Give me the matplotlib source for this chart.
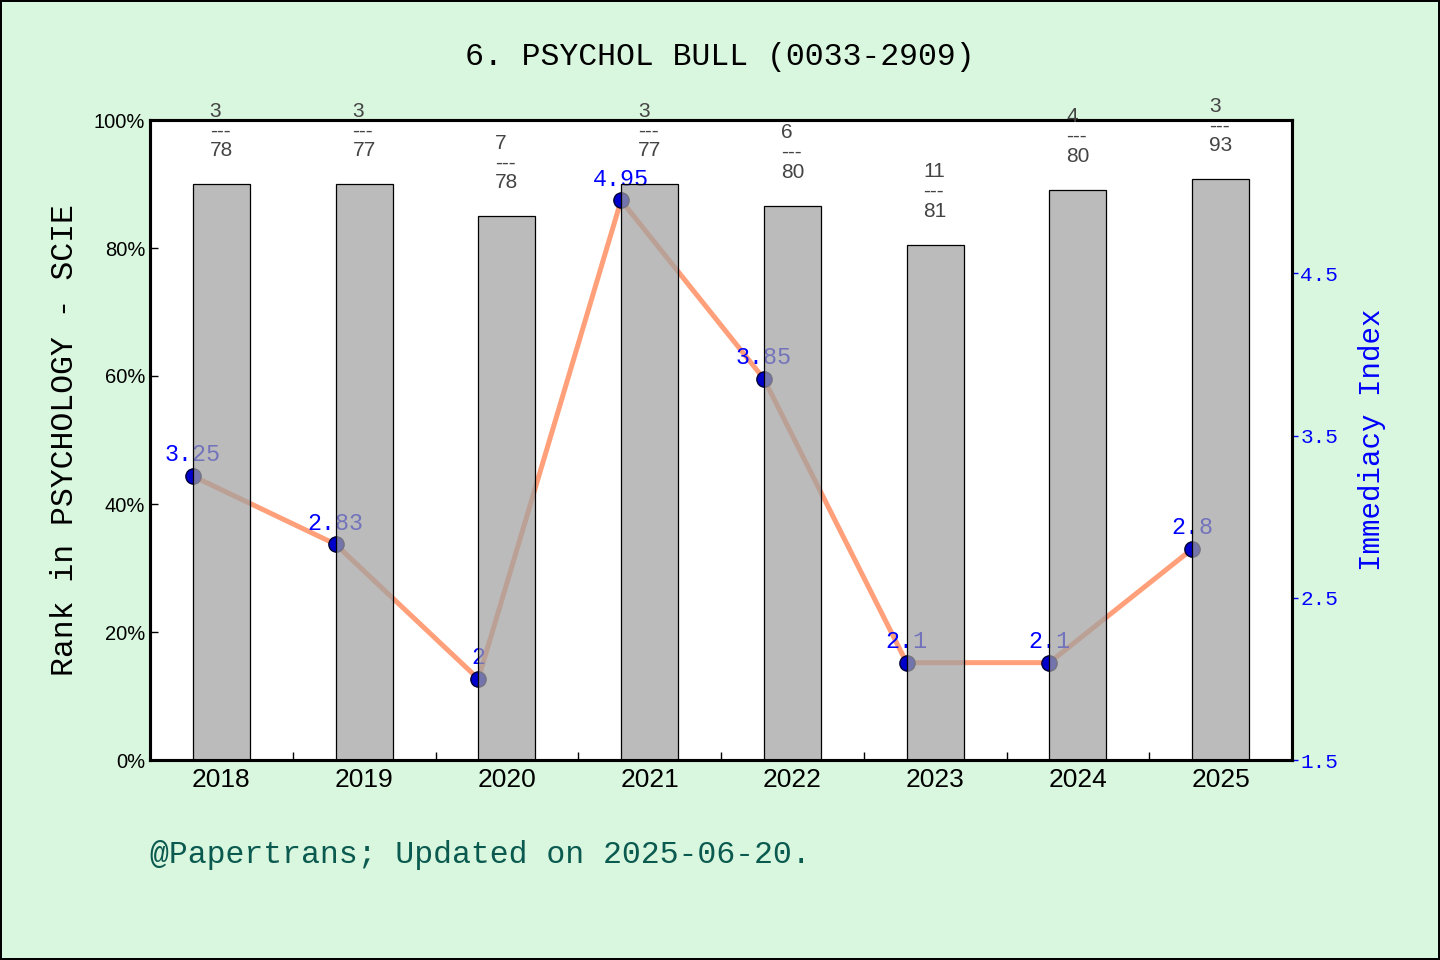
"""Rank percentile bars + immediacy index line for PSYCHOL BULL."""

import matplotlib
matplotlib.use("Agg")
import matplotlib.pyplot as plt
import matplotlib.ticker as mticker
from matplotlib import font_manager
import numpy as np

years = ["2018", "2019", "2020", "2021", "2022", "2023", "2024", "2025"]
rank_pct = [0.90, 0.90, 0.85, 0.90, 0.866, 0.805, 0.891, 0.908]
ranks = [3, 3, 7, 3, 6, 11, 4, 3]
totals = [78, 77, 78, 77, 80, 81, 80, 93]
immediacy = [3.25, 2.83, 2, 4.95, 3.85, 2.1, 2.1, 2.8]

title = "6. PSYCHOL BULL (0033-2909)"
footer = "@Papertrans; Updated on 2025-06-20."

_BG = "#d9f7de"
_FOOT = "#0a5a50"
_SALMON = "#ffa07a"

# pick a monospaced CJK-ish font if it is there
_names = {f.name for f in font_manager.fontManager.ttflist}
if "Noto Sans Mono CJK SC" in _names:
    MONO = ["Noto Sans Mono CJK SC", "DejaVu Sans Mono"]
    mono_scale = 1.0
else:
    MONO = ["Liberation Mono", "DejaVu Sans Mono"]
    mono_scale = 0.84
SANS = ["Liberation Sans", "DejaVu Sans"]

fig = plt.figure(figsize=(14.4, 9.6), dpi=100)
fig.patch.set_facecolor(_BG)
fig.patch.set_edgecolor("black")
fig.patch.set_linewidth(1.5)

ax = fig.add_axes([150 / 1440, 1 - 760 / 960, 1142 / 1440, 640 / 960])
ax2 = ax.twinx()
# bars sit above the line, so the line shows through them
ax.set_zorder(2)
ax2.set_zorder(1)
ax.patch.set_visible(False)
ax2.patch.set_visible(True)
ax2.patch.set_facecolor("white")

x = np.arange(len(years))

# ------------------------------------------------------------------
# bars: rank percentile
# ------------------------------------------------------------------
ax.bar(x, rank_pct, width=0.4, align="edge",
       facecolor=(0.63, 0.63, 0.63, 0.72), edgecolor="black", linewidth=0.9)
for xi, h, r, t in zip(x, rank_pct, ranks, totals):
    ax.text(xi + 0.2, h + 0.083, f"{r}\n---\n{t}", ha="center", va="center",
            multialignment="left", fontsize=15, color="#444444",
            family=SANS, linespacing=1.05)

ax.set_xlim(-0.3, len(years) - 0.3)
ax.set_ylim(0, 1)
ax.set_xticks(x + 0.2)
ax.set_xticklabels(years, family=SANS, fontsize=19)
ax.set_xticks(x[:-1] + 0.7, minor=True)
ax.tick_params(axis="x", which="major", length=0, pad=6)
ax.tick_params(axis="x", which="minor", direction="in", length=6, width=1)
ax.set_yticks(np.arange(0, 1.01, 0.2))
ax.yaxis.set_major_formatter(mticker.PercentFormatter(1.0, decimals=0))
ax.tick_params(axis="y", direction="in", length=6, width=1, labelsize=14.5)
for lab in ax.get_yticklabels():
    lab.set_family(SANS)
ax.set_ylabel("Rank in PSYCHOLOGY - SCIE", family=MONO,
              fontsize=27 * mono_scale, labelpad=10)

for sp in ax.spines.values():
    sp.set_linewidth(2.2)
for sp in ax2.spines.values():
    sp.set_linewidth(2.2)

# ------------------------------------------------------------------
# line: immediacy index
# ------------------------------------------------------------------
ax2.plot(x, immediacy, color=_SALMON, linewidth=3.6, marker="o",
         markersize=11, markerfacecolor="#0000cc", markeredgecolor="#000033",
         markeredgewidth=1.0)
for xi, v in zip(x, immediacy):
    ax2.annotate(f"{v:g}", (xi, v), xytext=(0, 7), textcoords="offset points",
                 ha="center", va="bottom", color="blue",
                 fontsize=20 * mono_scale, family=MONO)

ax2.set_ylim(1.5, max(immediacy) * 1.1)
ax2.set_yticks([1.5, 2.5, 3.5, 4.5])
ax2.tick_params(axis="y", direction="out", length=4, width=1,
                colors="blue", labelsize=18 * mono_scale, pad=2)
for lab in ax2.get_yticklabels():
    lab.set_family(MONO)
ax2.set_ylabel("Immediacy Index", color="blue", family=MONO,
               fontsize=25 * mono_scale, labelpad=14)

fig.text(0.5, 1 - 57 / 960, title, ha="center", va="center",
         fontsize=27 * mono_scale, family=MONO)
fig.text(150 / 1440, 1 - 855 / 960, footer, ha="left", va="center",
         fontsize=27 * mono_scale, family=MONO, color=_FOOT)

fig.savefig("out.png", dpi=100, facecolor=fig.get_facecolor(),
            edgecolor=fig.get_edgecolor())
